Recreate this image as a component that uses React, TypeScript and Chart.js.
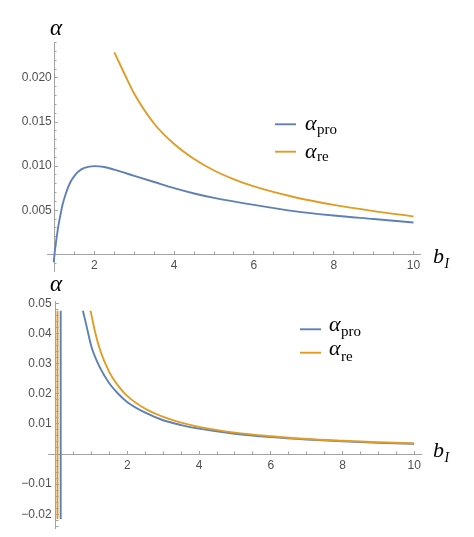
import { useEffect, useRef } from 'react';
import Chart from 'chart.js/auto';

type Pt = [number, number];

// upper panel, b_I from about 1 to 10
const topPro: Pt[] = [
  [0.98, -0.0009], [1.0, 0], [1.02, 0.00077], [1.05, 0.0018], [1.1, 0.0033], [1.15, 0.0045],
  [1.2, 0.0056], [1.3, 0.0071], [1.4, 0.0082], [1.5, 0.0089], [1.6, 0.0094], [1.75, 0.0098],
  [2, 0.01], [2.25, 0.0099], [2.5, 0.0096], [3, 0.0089], [3.5, 0.0082], [4, 0.0075],
  [4.5, 0.0069], [5, 0.0064], [6, 0.0056], [7, 0.0049], [8, 0.0044], [9, 0.004], [10, 0.0036],
];
const topRe: Pt[] = [
  [2.5, 0.0229], [2.75, 0.0205], [3, 0.0182], [3.5, 0.0148], [4, 0.0125], [4.5, 0.0108],
  [5, 0.0095], [5.5, 0.0085], [6, 0.0077], [7, 0.0065], [8, 0.0056], [9, 0.0049], [10, 0.0043],
];

// lower panel, b_I from 0 to 10 (the near-vertical strokes are the jumps across the pole)
const bottomProPole: Pt[] = [[0.14, -0.0216], [0.14, 0.0475]];
const bottomPro: Pt[] = [
  [0.76, 0.0475], [0.85, 0.043], [1, 0.0355], [1.25, 0.0283], [1.5, 0.0234], [1.75, 0.0199],
  [2, 0.0172], [2.5, 0.0137], [3, 0.0112], [3.5, 0.0096], [4, 0.0084], [5, 0.0067],
  [6, 0.0056], [7, 0.0048], [8, 0.0042], [9, 0.0037], [10, 0.0034],
];
const bottomRePole: Pt[] = [[0.05, -0.0216], [0.05, 0.0475]];
const bottomRe: Pt[] = [
  [0.97, 0.0475], [1, 0.046], [1.1, 0.0404], [1.25, 0.0341], [1.5, 0.0271], [1.75, 0.0225],
  [2, 0.0192], [2.5, 0.015], [3, 0.0123], [3.5, 0.0104], [4, 0.009], [5, 0.0071],
  [6, 0.0059], [7, 0.005], [8, 0.0044], [9, 0.0039], [10, 0.0035],
];

const topXTicks = [2, 4, 6, 8, 10];
const topYTicks = [0.005, 0.01, 0.015, 0.02];
const bottomXTicks = [2, 4, 6, 8, 10];
const bottomYTicks = [-0.02, -0.01, 0.01, 0.02, 0.03, 0.04, 0.05];

const BLUE = '#5e81b5';
const ORANGE = '#e19c24';
const AXIS = '#a3a3a3';
const LABEL = '#505050';
const SANS = '"Liberation Sans", Arial, sans-serif';
const SERIF = '"Liberation Serif", "Times New Roman", serif';
const TICK_FONT = { family: SANS, size: 12 };

Chart.defaults.font.family = SANS;

const curve = (pts: Pt[], color: string, order: number) => ({
  data: pts.map(([x, y]) => ({ x, y })),
  xAxisID: 'x',
  yAxisID: 'y',
  borderColor: color,
  borderWidth: 1.9,
  pointRadius: 0,
  showLine: true,
  fill: false,
  cubicInterpolationMode: 'monotone',
  order,
});

// axes sit inside the plot (Mathematica style), so they must not take layout room
const zeroBox = (s: any) => {
  s.width = 0;
  s.height = 0;
  s.paddingLeft = s.paddingRight = s.paddingTop = s.paddingBottom = 0;
};

const fixedTicks = (ticks: number[]) => (s: any) => { s.ticks = ticks.map(value => ({ value })); };

function xAxis(min: number, max: number, ticks: number[]) {
  return {
    type: 'linear',
    min,
    max,
    position: { y: 0 },
    afterFit: zeroBox,
    afterBuildTicks: fixedTicks(ticks),
    grid: { drawOnChartArea: false, tickLength: -4, tickColor: AXIS, tickWidth: 1 },
    border: { display: true, color: AXIS, width: 1 },
    ticks: { autoSkip: false, maxRotation: 0, padding: 8, color: LABEL, font: TICK_FONT, callback: (v: any) => String(v) },
  };
}

// y axis line and major ticks, placed at x = at
function yAxis(min: number, max: number, at: number, ticks: number[]) {
  return {
    type: 'linear',
    min,
    max,
    position: { x: at },
    afterFit: zeroBox,
    afterBuildTicks: fixedTicks(ticks),
    grid: { drawOnChartArea: false, tickLength: -4, tickColor: AXIS, tickWidth: 1 },
    border: { display: true, color: AXIS, width: 1 },
    ticks: { display: false, autoSkip: false },
  };
}

// y tick labels, right-aligned at x = at (a little left of the axis line)
function yLabels(min: number, max: number, at: number, ticks: number[], fmt: (v: number) => string) {
  return {
    type: 'linear',
    axis: 'y',
    min,
    max,
    position: { x: at },
    afterFit: zeroBox,
    afterBuildTicks: fixedTicks(ticks),
    grid: { display: false, drawTicks: false },
    border: { display: false },
    ticks: { autoSkip: false, padding: 0, color: LABEL, font: TICK_FONT, callback: (v: any) => fmt(Number(v)) },
  };
}

function minorAxis(axis: string, min: number, max: number, at: any, step: number) {
  return {
    type: 'linear',
    axis,
    min,
    max,
    position: at,
    afterFit: zeroBox,
    grid: { drawOnChartArea: false, tickLength: -2.5, tickColor: AXIS, tickWidth: 1 },
    border: { display: false },
    ticks: { display: false, stepSize: step, includeBounds: false, autoSkip: false },
  };
}

type Label = { x: number; y: number; main: string; sub?: string; size: number; subSize: number; subDy: number; subItalic?: boolean };
type Key = { x0: number; x1: number; y: number; color: string; label: Label };

function textPlugin(texts: Label[], keys: Key[]) {
  return {
    id: 'panelText',
    afterDraw(chart: Chart) {
      const ctx = chart.ctx;
      ctx.save();
      ctx.fillStyle = '#000';
      ctx.textAlign = 'left';
      ctx.textBaseline = 'alphabetic';
      const write = (t: Label) => {
        ctx.font = `italic ${t.size}px ${SERIF}`;
        ctx.fillText(t.main, t.x, t.y);
        if (t.sub) {
          const w = ctx.measureText(t.main).width;
          ctx.font = `${t.subItalic ? 'italic ' : ''}${t.subSize}px ${SERIF}`;
          ctx.fillText(t.sub, t.x + w + 0.5, t.y + t.subDy);
        }
      };
      keys.forEach(k => {
        ctx.strokeStyle = k.color;
        ctx.lineWidth = 1.9;
        ctx.beginPath();
        ctx.moveTo(k.x0, k.y);
        ctx.lineTo(k.x1, k.y);
        ctx.stroke();
        write(k.label);
      });
      texts.forEach(write);
      ctx.restore();
    },
  };
}

const baseOptions = {
  animation: false,
  responsive: true,
  maintainAspectRatio: false,
  events: [],
  plugins: { legend: { display: false }, tooltip: { enabled: false } },
};

function topConfig(): any {
  const xr = [0.812, 10.163];
  const yr = [-0.00197, 0.02407];
  return {
    type: 'scatter',
    data: { datasets: [curve(topPro, BLUE, 2), curve(topRe, ORANGE, 1)] },
    options: {
      ...baseOptions,
      layout: { padding: { left: 47, right: 54, top: 42, bottom: 6.3 } },
      scales: {
        x: xAxis(xr[0], xr[1], topXTicks),
        xMinor: minorAxis('x', xr[0], xr[1], { y: 0 }, 0.5),
        y: yAxis(yr[0], yr[1], 1, topYTicks),
        yMinor: minorAxis('y', yr[0], yr[1], { x: 1 }, 0.001),
        yText: yLabels(yr[0], yr[1], 0.932, topYTicks, v => v.toFixed(3)),
      },
    },
    plugins: [
      textPlugin(
        [
          { x: 50, y: 35, main: 'α', size: 23, subSize: 14, subDy: 0 },
          { x: 433, y: 263, main: 'b', sub: 'I', size: 22, subSize: 14, subDy: 4.5, subItalic: true },
        ],
        [
          { x0: 275, x1: 296, y: 124.3, color: BLUE, label: { x: 305, y: 130, main: 'α', sub: 'pro', size: 22, subSize: 15, subDy: 3.5 } },
          { x0: 275, x1: 296, y: 151.7, color: ORANGE, label: { x: 305, y: 157.5, main: 'α', sub: 're', size: 22, subSize: 15, subDy: 3.5 } },
        ],
      ),
    ],
  };
}

function bottomConfig(): any {
  const xr = [-0.206, 10.21];
  const yr = [-0.02455, 0.05076];
  return {
    type: 'scatter',
    data: {
      datasets: [
        curve(bottomProPole, BLUE, 2),
        curve(bottomPro, BLUE, 2),
        curve(bottomRePole, ORANGE, 1),
        curve(bottomRe, ORANGE, 1),
      ],
    },
    options: {
      ...baseOptions,
      layout: { padding: { left: 48.3, right: 52.3, top: 29, bottom: 9 } },
      scales: {
        x: xAxis(xr[0], xr[1], bottomXTicks),
        xMinor: minorAxis('x', xr[0], xr[1], { y: 0 }, 0.5),
        y: yAxis(yr[0], yr[1], 0, bottomYTicks),
        yMinor: minorAxis('y', yr[0], yr[1], { x: 0 }, 0.002),
        yText: yLabels(yr[0], yr[1], -0.111, bottomYTicks, v => v.toFixed(2).replace('-', '\u2212')),
      },
    },
    plugins: [
      textPlugin(
        [
          { x: 50, y: 18.7, main: 'α', size: 23, subSize: 14, subDy: 0 },
          { x: 433, y: 185.3, main: 'b', sub: 'I', size: 22, subSize: 14, subDy: 4.5, subItalic: true },
        ],
        [
          { x0: 300, x1: 321, y: 57.3, color: BLUE, label: { x: 329, y: 58.5, main: 'α', sub: 'pro', size: 22, subSize: 15, subDy: 5.5 } },
          { x0: 300, x1: 321, y: 80.7, color: ORANGE, label: { x: 329, y: 83, main: 'α', sub: 're', size: 22, subSize: 15, subDy: 5.5 } },
        ],
      ),
    ],
  };
}

function Panel({ top, height, config }: { top: number; height: number; config: () => any }) {
  const canvasRef = useRef<HTMLCanvasElement>(null);
  useEffect(() => {
    if (!canvasRef.current) return;
    const chart = new Chart(canvasRef.current, config());
    return () => chart.destroy();
  }, [config]);
  return (
    <div style={{ position: 'absolute', left: 0, top, width: 474, height }}>
      <canvas ref={canvasRef} />
    </div>
  );
}

export default function App() {
  return (
    <div style={{ position: 'absolute', left: 0, top: 0, width: 474, height: 537, background: '#fff' }}>
      <Panel top={0} height={278} config={topConfig} />
      <Panel top={272} height={265} config={bottomConfig} />
    </div>
  );
}
